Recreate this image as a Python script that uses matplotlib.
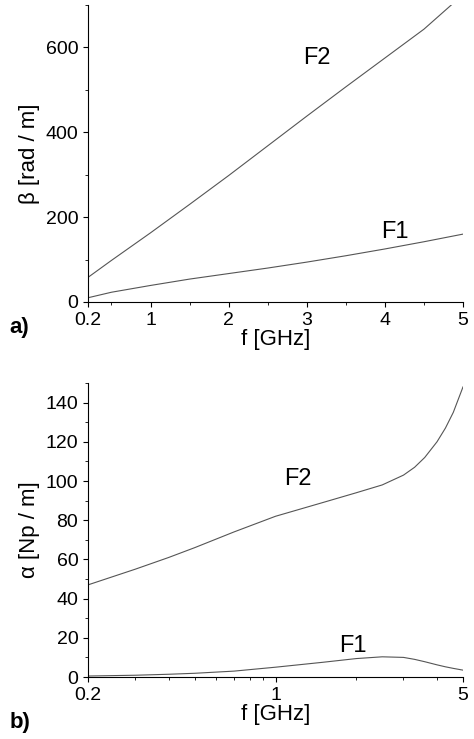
import matplotlib
matplotlib.use("Agg")
import matplotlib.pyplot as plt
from matplotlib.ticker import MultipleLocator, FixedLocator, NullFormatter

plt.rcParams['font.family'] = ['Liberation Sans', 'DejaVu Sans']

f_top = [0.2, 0.5, 1, 1.5, 2, 2.5, 3, 3.5, 4, 4.5, 4.85]
beta_F2 = [58, 98, 163, 230, 298, 368, 438, 507, 575, 643, 700]
f_top1 = [0.2, 0.5, 1, 1.5, 2, 2.5, 3, 3.5, 4, 4.5, 5]
beta_F1 = [10, 23, 39, 54, 67, 80, 94, 109, 125, 142, 160]

f_bot = [0.2, 0.3, 0.4, 0.5, 0.7, 1, 1.5, 2, 2.5, 3, 3.3, 3.6, 4, 4.3, 4.6, 5]
alpha_F2 = [47, 55, 61, 66, 74, 82, 89, 94, 98, 103, 107, 112, 120, 127, 135, 148]
alpha_F1 = [0.5, 0.9, 1.4, 1.9, 3, 5, 7.5, 9.4, 10.3, 10.0, 9.0, 7.8, 6.2, 5.2, 4.4, 3.5]

fig = plt.figure(figsize=(4.74, 7.39), dpi=100)
ax1 = fig.add_axes([88/474, 1-302/739, 375/474, 297/739])
ax2 = fig.add_axes([88/474, 1-677/739, 375/474, 294/739])

for ax in (ax1, ax2):
    for s in ('top', 'right'):
        ax.spines[s].set_visible(False)
    ax.tick_params(labelsize=14, direction='out')

ax1.plot(f_top, beta_F2, color='#555555', lw=0.8)
ax1.plot(f_top1, beta_F1, color='#555555', lw=0.8)
ax1.set_xlim(0.2, 5)
ax1.set_ylim(0, 700)
ax1.set_xticks([0.2, 1, 2, 3, 4, 5])
ax1.set_xticklabels(['0.2', '1', '2', '3', '4', '5'])
ax1.xaxis.set_minor_locator(MultipleLocator(0.5))
ax1.set_yticks([0, 200, 400, 600])
ax1.yaxis.set_minor_locator(MultipleLocator(100))
ax1.set_xlabel('f [GHz]', fontsize=16, labelpad=0)
ax1.set_ylabel('β [rad / m]', fontsize=16)
ax1.text(2.95, 560, 'F2', fontsize=17)
ax1.text(3.95, 150, 'F1', fontsize=17)
fig.text(0.02, 1-333/739, 'a)', fontsize=16, fontweight='bold')

ax2.plot(f_bot, alpha_F2, color='#555555', lw=0.8)
ax2.plot(f_bot, alpha_F1, color='#555555', lw=0.8)
ax2.set_xscale('log')
ax2.set_xlim(0.2, 5)
ax2.set_ylim(0, 150)
ax2.xaxis.set_major_locator(FixedLocator([0.2, 1, 5]))
ax2.set_xticklabels(['0.2', '1', '5'])
ax2.xaxis.set_minor_locator(FixedLocator([0.3, 0.4, 0.5, 0.6, 0.7, 0.8, 0.9, 2, 3, 4]))
ax2.xaxis.set_minor_formatter(NullFormatter())
ax2.set_yticks(range(0, 141, 20))
ax2.yaxis.set_minor_locator(MultipleLocator(10))
ax2.set_xlabel('f [GHz]', fontsize=16, labelpad=0)
ax2.set_ylabel('α [Np / m]', fontsize=16)
ax2.text(1.08, 98, 'F2', fontsize=17)
ax2.text(1.72, 13, 'F1', fontsize=17)
fig.text(0.02, 1-728/739, 'b)', fontsize=16, fontweight='bold')

fig.savefig('out.png', dpi=100)
